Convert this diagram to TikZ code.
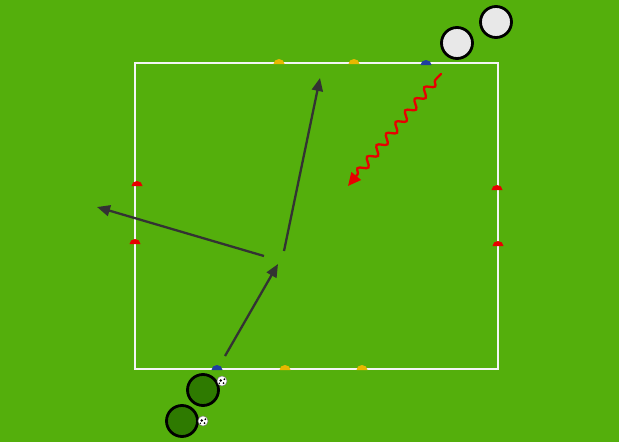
\documentclass[tikz,border=0pt]{standalone}
\usetikzlibrary{arrows.meta,decorations.pathmorphing}
\definecolor{pitch}{HTML}{54AF0C}
\definecolor{coneY}{HTML}{E8B800}
\definecolor{coneB}{HTML}{1F3FA0}
\definecolor{coneR}{HTML}{E80000}
\definecolor{teamG}{HTML}{2E7A00}
\definecolor{teamW}{HTML}{E8E8E8}
\definecolor{runC}{HTML}{333333}
\tikzset{
  playerW/.style={circle,draw=black,line width=2.8pt,fill=teamW,minimum size=31pt,inner sep=0pt},
  playerG/.style={circle,draw=black,line width=2.8pt,fill=teamG,minimum size=31pt,inner sep=0pt},
  ballnode/.style={circle,draw=gray,line width=0.5pt,fill=white,minimum size=10pt,inner sep=0pt},
  runarrow/.style={draw=runC,line width=2.3pt,-{Triangle[length=13pt,width=11pt]}},
  dribble/.style={draw=coneR,line width=2.3pt,-{Triangle[length=13pt,width=12pt]},
    decorate,decoration={snake,amplitude=4pt,segment length=15pt,pre length=3pt,post length=10pt}},
}
\newcommand{\conemark}[3]{\fill[#3] (#1-5.5,#2+2) arc[start angle=180,end angle=360,x radius=5.5,y radius=5] -- cycle;}
\begin{document}
\begin{tikzpicture}[x=1pt,y=-1pt]
\fill[pitch] (0,0) rectangle (619,442);
\useasboundingbox (0,0) rectangle (619,442);
% field
\draw[white!92!gray,line width=2pt] (135,63) rectangle (498,369);
% cones
\conemark{279}{62}{coneY}
\conemark{354}{62}{coneY}
\conemark{426}{63}{coneB}
\conemark{217}{368}{coneB}
\conemark{285}{368}{coneY}
\conemark{362}{368}{coneY}
\conemark{137}{184}{coneR}
\conemark{135}{242}{coneR}
\conemark{497}{188}{coneR}
\conemark{498}{244}{coneR}
% players
\node[playerW] (w1) at (457,43) {};
\node[playerW] (w2) at (496,22) {};
\node[playerG] (g1) at (203,390) {};
\node[playerG] (g2) at (182,421) {};
% balls
\node[ballnode] (b1) at (222,381) {};
\node[ballnode] (b2) at (203,421) {};
\foreach \b in {b1,b2}{
  \fill[black] (\b) ++(-1.2,-0.5) circle (1.4pt);
  \fill[black] (\b) ++(2.3,-1.8) circle (1pt);
  \fill[black] (\b) ++(1.5,2.2) circle (1pt);
  \fill[black] (\b) ++(-2.6,2.2) circle (0.8pt);
}
% run coordinates
\coordinate (r1s) at (225,356);
\coordinate (r1e) at (278,264);
\coordinate (r2s) at (284,251);
\coordinate (r2e) at (320,78);
\coordinate (r3s) at (264,256);
\coordinate (r3e) at (97,207);
\coordinate (d0) at (441,74);
\coordinate (d1s) at (437,78);
\coordinate (d1e) at (348,186);
\draw[runarrow] (r1s) -- (r1e);
\draw[runarrow] (r2s) -- (r2e);
\draw[runarrow] (r3s) -- (r3e);
\draw[coneR,line width=2.3pt,line cap=round] (d0) -- (d1s);
\draw[dribble] (d1s) -- (d1e);
\end{tikzpicture}
\end{document}
